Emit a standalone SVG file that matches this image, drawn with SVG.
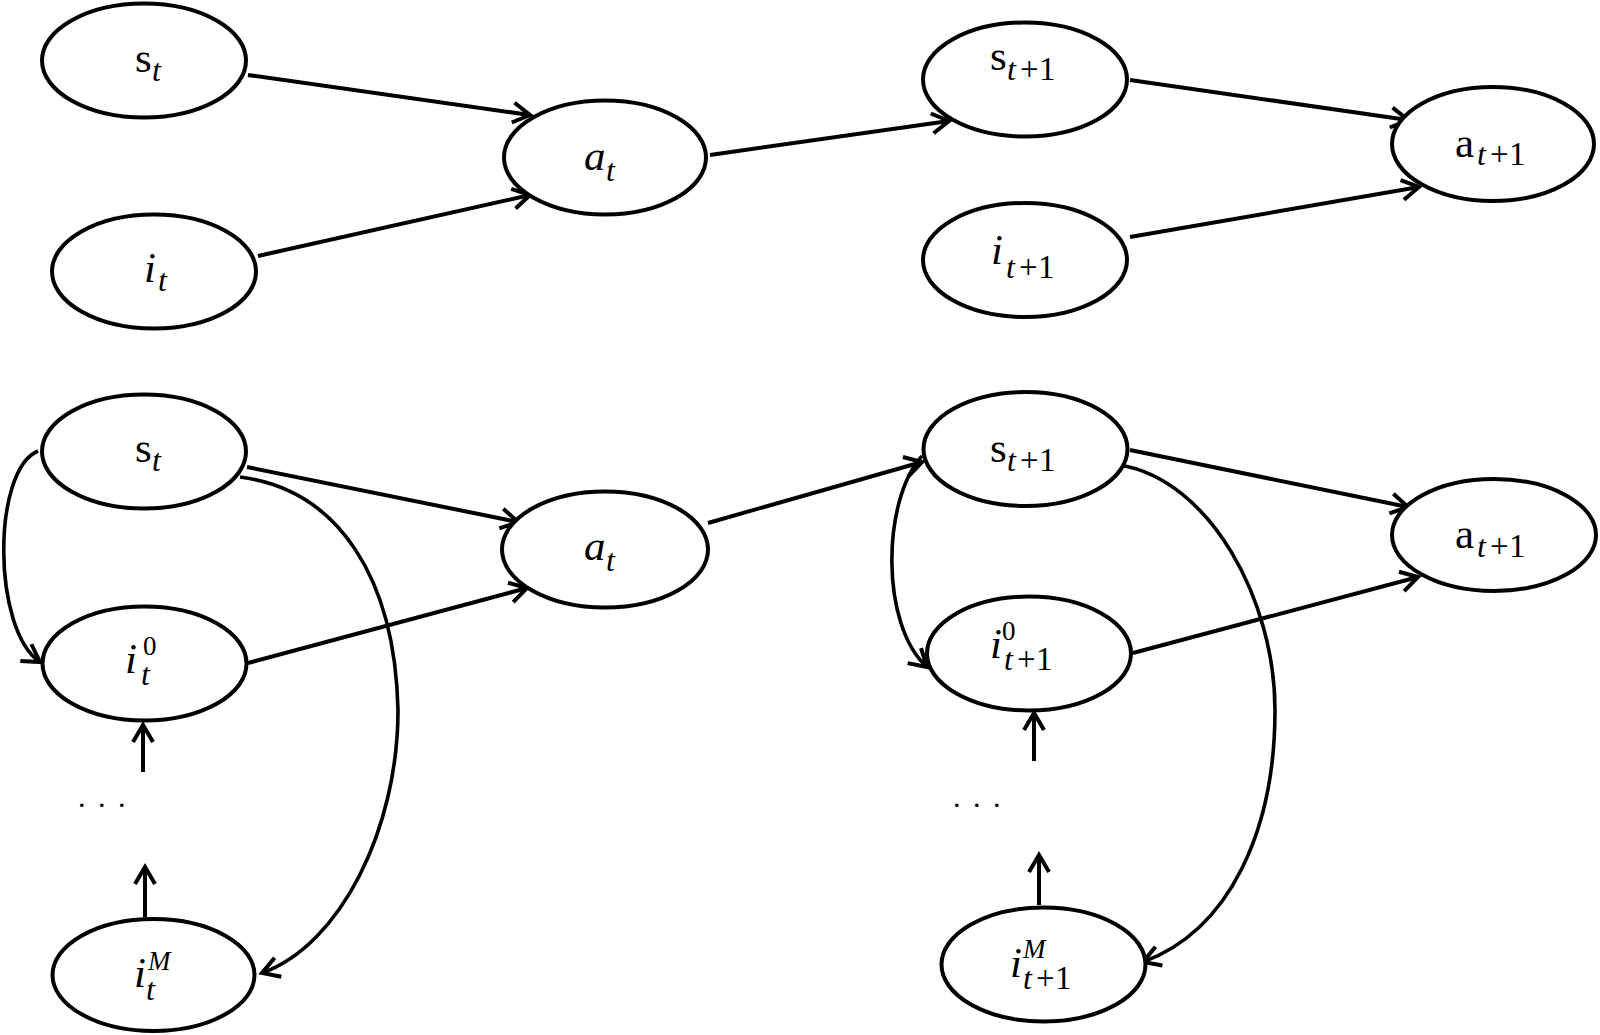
<svg xmlns="http://www.w3.org/2000/svg" width="1600" height="1035" viewBox="0 0 1600 1035">
<defs>
<style>
.n{fill:#fff;stroke:#000;stroke-width:4}
.e{fill:none;stroke:#000;stroke-width:4}
.c{fill:none;stroke:#000;stroke-width:3.6}
text{font-family:"Liberation Serif","Times New Roman",serif;fill:#000}
.b{font-size:43px}
.bi{font-size:43px;font-style:italic}
.s{font-size:32px;font-style:italic}
.r{font-size:33px}
.p{font-size:27px}
.pi{font-size:27px;font-style:italic}
.d{font-size:30px}
</style>
<marker id="arr" markerWidth="24" markerHeight="24" refX="20" refY="12" orient="auto" markerUnits="userSpaceOnUse" overflow="visible">
<path d="M3,2 L20,12 L3,22" fill="none" stroke="#000" stroke-width="4"/>
</marker>
</defs>
<rect width="1600" height="1035" fill="#fff"/>

<g id="connectors">
<line class="e" x1="248" y1="75" x2="530" y2="115" marker-end="url(#arr)"/>
<line class="e" x1="258" y1="256" x2="530" y2="195" marker-end="url(#arr)"/>
<line class="e" x1="710" y1="155" x2="949" y2="121" marker-end="url(#arr)"/>
<line class="e" x1="1130" y1="80" x2="1408" y2="120" marker-end="url(#arr)"/>
<line class="e" x1="1130" y1="237" x2="1419" y2="187" marker-end="url(#arr)"/>

<line class="e" x1="247" y1="467" x2="518" y2="522" marker-end="url(#arr)"/>
<line class="e" x1="248" y1="663" x2="527" y2="588" marker-end="url(#arr)"/>
<line class="e" x1="708" y1="523" x2="922" y2="462" marker-end="url(#arr)"/>
<line class="e" x1="1130" y1="450" x2="1408" y2="507" marker-end="url(#arr)"/>
<line class="e" x1="1133" y1="653" x2="1418" y2="577" marker-end="url(#arr)"/>

<line class="e" x1="143" y1="772" x2="143" y2="725" marker-end="url(#arr)"/>
<line class="e" x1="145" y1="917" x2="145" y2="867" marker-end="url(#arr)"/>
<line class="e" x1="1034" y1="761" x2="1034" y2="713" marker-end="url(#arr)"/>
<line class="e" x1="1039" y1="905" x2="1039" y2="855" marker-end="url(#arr)"/>

<path class="c" d="M38,451 C-8,470 -8,630 40,662" marker-end="url(#arr)"/>
<path class="c" d="M922,456 C882,500 880,625 927,667" marker-end="url(#arr)"/>
<path class="c" d="M240,477 C340,490 395,580 398,710 C398,830 340,945 262,973" marker-end="url(#arr)"/>
<path class="c" d="M1120,465 C1210,480 1275,600 1275,710 C1275,830 1230,930 1143,962" marker-end="url(#arr)"/>
</g>

<g id="s_t_top"><ellipse class="n" cx="144" cy="60.5" rx="102" ry="57"/>
<text><tspan class="b" x="135" y="72">s</tspan><tspan class="s" x="152" y="81">t</tspan></text></g>
<g id="i_t_top"><ellipse class="n" cx="154" cy="271.5" rx="102" ry="57"/>
<text><tspan class="bi" x="144" y="282">i</tspan><tspan class="s" x="158" y="291">t</tspan></text></g>
<g id="a_t_top"><ellipse class="n" cx="605" cy="157.5" rx="101" ry="57"/>
<text><tspan class="bi" x="584" y="170">a</tspan><tspan class="s" x="606" y="181">t</tspan></text></g>
<g id="s_t1_top"><ellipse class="n" cx="1025" cy="79.5" rx="102" ry="57"/>
<text><tspan class="b" x="990" y="70">s</tspan><tspan class="s" x="1007" y="80">t</tspan><tspan class="r" x="1020" y="80">+</tspan><tspan class="r" x="1039" y="80">1</tspan></text></g>
<g id="i_t1_top"><ellipse class="n" cx="1025" cy="260" rx="102" ry="57"/>
<text><tspan class="bi" x="991" y="264">i</tspan><tspan class="s" x="1006" y="278">t</tspan><tspan class="r" x="1019" y="278">+</tspan><tspan class="r" x="1038" y="278">1</tspan></text></g>
<g id="a_t1_top"><ellipse class="n" cx="1493" cy="144" rx="101" ry="57"/>
<text><tspan class="b" x="1455" y="157">a</tspan><tspan class="s" x="1477" y="165">t</tspan><tspan class="r" x="1490" y="165">+</tspan><tspan class="r" x="1509" y="165">1</tspan></text></g>

<g id="s_t_bot"><ellipse class="n" cx="144" cy="451.5" rx="102" ry="57"/>
<text><tspan class="b" x="135" y="462">s</tspan><tspan class="s" x="152" y="471">t</tspan></text></g>
<g id="i0_t"><ellipse class="n" cx="144.5" cy="663.5" rx="102" ry="57"/>
<text><tspan class="bi" x="125" y="673">i</tspan><tspan class="p" x="143" y="655">0</tspan><tspan class="s" x="141" y="685">t</tspan></text></g>
<g id="iM_t"><ellipse class="n" cx="153.5" cy="975" rx="101" ry="56"/>
<text><tspan class="bi" x="134" y="987">i</tspan><tspan class="pi" x="148" y="970">M</tspan><tspan class="s" x="146" y="1000">t</tspan></text></g>
<g id="a_t_bot"><ellipse class="n" cx="605" cy="549.5" rx="103" ry="58"/>
<text><tspan class="bi" x="584" y="560">a</tspan><tspan class="s" x="606" y="571">t</tspan></text></g>
<g id="s_t1_bot"><ellipse class="n" cx="1025.5" cy="449" rx="102" ry="57"/>
<text><tspan class="b" x="990" y="462">s</tspan><tspan class="s" x="1007" y="471">t</tspan><tspan class="r" x="1020" y="471">+</tspan><tspan class="r" x="1039" y="471">1</tspan></text></g>
<g id="i0_t1"><ellipse class="n" cx="1029" cy="653.5" rx="102" ry="57"/>
<text><tspan class="bi" x="990" y="658">i</tspan><tspan class="p" x="1002" y="640">0</tspan><tspan class="s" x="1004" y="670">t</tspan><tspan class="r" x="1017" y="670">+</tspan><tspan class="r" x="1036" y="670">1</tspan></text></g>
<g id="iM_t1"><ellipse class="n" cx="1043.5" cy="964.5" rx="102" ry="57"/>
<text><tspan class="bi" x="1010" y="977">i</tspan><tspan class="pi" x="1023" y="958">M</tspan><tspan class="s" x="1023" y="989">t</tspan><tspan class="r" x="1036" y="989">+</tspan><tspan class="r" x="1055" y="989">1</tspan></text></g>
<g id="a_t1_bot"><ellipse class="n" cx="1494" cy="535" rx="102" ry="56"/>
<text><tspan class="b" x="1455" y="548">a</tspan><tspan class="s" x="1477" y="557">t</tspan><tspan class="r" x="1490" y="557">+</tspan><tspan class="r" x="1509" y="557">1</tspan></text></g>

<g id="dots_left"><text class="d" x="78 98 118" y="807">...</text></g>
<g id="dots_right"><text class="d" x="953 973 993" y="807">...</text></g>
</svg>
